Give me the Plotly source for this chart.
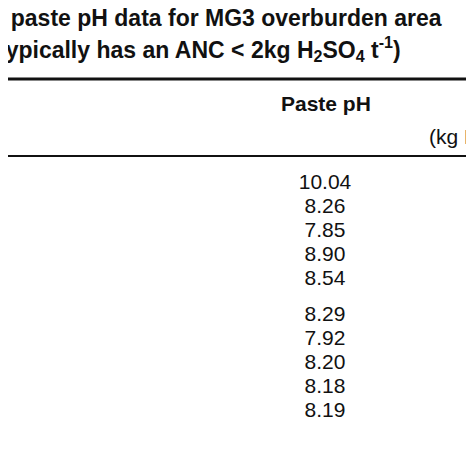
import plotly.graph_objects as go

labels = ["D sample 1","D sample 2","D sample 3","D sample 4","D sample 5",
          "P sample 1","P sample 2","P sample 3","P sample 4","P sample 5"]
paste_ph = ["10.04","8.26","7.85","8.90","8.54","8.29","7.92","8.20","8.18","8.19"]
row_y = [184,208,232,256,280,316,340,364,388,412]

F = "Liberation Sans, Arial, sans-serif"
W = 466
OFF = 8  # page body margin

def px(x):
    return (x - OFF) / W

def py(y):
    return 1 - (y - OFF) / W

fig = go.Figure()
fig.add_trace(go.Scatter(x=[-2]*len(labels), y=row_y, text=labels, mode="text", cliponaxis=False,
                         textposition="middle right", textfont=dict(family=F, size=22, color="#111"),
                         hoverinfo="skip"))
fig.add_trace(go.Scatter(x=[325]*len(paste_ph), y=row_y, text=paste_ph, mode="text", cliponaxis=False,
                         textposition="middle center", textfont=dict(family=F, size=21, color="#111"),
                         hoverinfo="skip"))
ann = [
    dict(x=-4, y=18, text="<b>l paste pH data for MG3 overburden area</b>", xanchor="left", size=23),
    dict(x=-4, y=49, text="<b>typically has an ANC &lt; 2kg H<sub>2</sub>SO<sub>4</sub> t<sup>-1</sup>)</b>", xanchor="left", size=23),
    dict(x=326, y=103, text="<b>Paste pH</b>", xanchor="center", size=21),
    dict(x=427, y=137, text="(kg H", xanchor="left", size=21),
    dict(x=468, y=256, text="2", xanchor="left", size=21),
]
for a in ann:
    fig.add_annotation(x=px(a["x"]), y=py(a["y"]), text=a["text"], xanchor=a["xanchor"], yanchor="middle",
                       showarrow=False, font=dict(family=F, size=a["size"], color="#111"),
                       xref="paper", yref="paper")
fig.add_shape(type="line", x0=OFF, x1=OFF + W, y0=79, y1=79, line=dict(color="#111", width=3), xref="x", yref="y")
fig.add_shape(type="line", x0=OFF, x1=OFF + W, y0=156, y1=156, line=dict(color="#111", width=2), xref="x", yref="y")
fig.update_xaxes(range=[OFF, OFF + W], visible=False)
fig.update_yaxes(range=[OFF + W, OFF], visible=False)
fig.update_layout(width=W, height=W, margin=dict(l=0,r=0,t=0,b=0), showlegend=False,
                  paper_bgcolor="white", plot_bgcolor="white")
fig.write_html("out.html")
